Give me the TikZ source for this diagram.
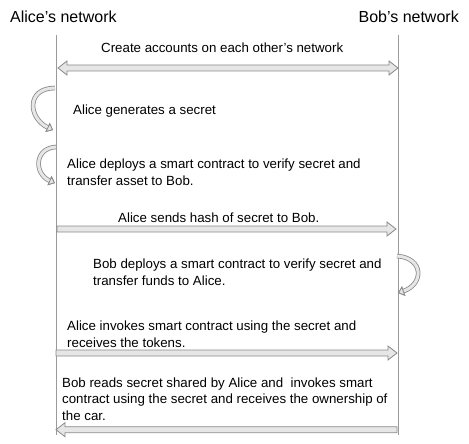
\documentclass[tikz,border=0pt]{standalone}
\usepackage{fontspec}
\setmainfont{Liberation Sans}
\usetikzlibrary{calc,arrows.meta}
\definecolor{linegray}{HTML}{8A8A8A}
\definecolor{fillgray}{HTML}{E6E6E6}
\definecolor{lifegray}{HTML}{9A9A9A}

\newcommand\onearrow[2]{%
\coordinate (hb) at ($(#2)!9pt!(#1)$);
\filldraw[blk]($(#1)!3pt!90:(#2)$)--($(hb)!3pt!90:(#2)$)--($(hb)!7pt!90:(#2)$)--(#2)
 --($(hb)!7pt!-90:(#2)$)--($(hb)!3pt!-90:(#2)$)--($(#1)!3pt!-90:(#2)$)--cycle;}
\newcommand\twoarrow[2]{%
\coordinate (ha) at ($(#1)!9pt!(#2)$);
\coordinate (hb) at ($(#2)!9pt!(#1)$);
\filldraw[blk](#1)--($(ha)!7pt!90:(#2)$)--($(ha)!3pt!90:(#2)$)--($(hb)!3pt!90:(#2)$)--($(hb)!7pt!90:(#2)$)--(#2)
 --($(hb)!7pt!-90:(#2)$)--($(hb)!3pt!-90:(#2)$)--($(ha)!3pt!-90:(#2)$)--($(ha)!7pt!-90:(#2)$)--cycle;}

\begin{document}
\begin{tikzpicture}[x=1pt,y=-1pt,
 life/.style={draw=lifegray,line width=0.8pt},
 blk/.style={draw=linegray,fill=fillgray,line width=0.8pt,line join=miter},
 selfarrow/.style={draw=fillgray,line width=3pt,preaction={draw=linegray,line width=4.6pt},
  -{Triangle[length=6pt,width=10pt,fill=fillgray,color=linegray,line width=0.8pt]}},
 title/.style={inner sep=0pt,font=\fontsize{16}{19}\selectfont},
 msg/.style={inner sep=0pt,anchor=base west,align=left,font=\fontsize{13.3}{16.3}\selectfont}]
\useasboundingbox (0,0) rectangle (469,444);

\node[title,anchor=base west](alice) at (10,22.7) {Alice’s network};
\node[title,anchor=base east](bob) at (459,22.7) {Bob’s network};

\coordinate (aT) at (56,35);
\coordinate (aB) at (56,435);
\coordinate (bT) at (398,35);
\coordinate (bB) at (398,435);
\draw[life](aT)--(aB);
\draw[life](bT)--(bB);

\node[msg](m1) at (101,52.7) {Create accounts on each other’s network};
\coordinate (m1a) at (58,68);
\coordinate (m1b) at (398,68);
\twoarrow{m1a}{m1b}

\node[msg](m2) at (73,114) {Alice generates a secret};
\coordinate (s1) at (55,88);
\coordinate (s1e) at (53,130);
\draw[selfarrow](s1) .. controls (26,88) and (28,118) .. (s1e);

\node[msg](m3) at (67,185) {Alice deploys a smart contract to verify secret and\\transfer asset to Bob.};
\coordinate (s2) at (56,147);
\coordinate (s2e) at (55,183);
\draw[selfarrow](s2) .. controls (34,148) and (34,174) .. (s2e);

\node[msg](m4) at (118,222.7) {Alice sends hash of secret to Bob.};
\coordinate (m4a) at (57,229);
\coordinate (m4b) at (396,229);
\onearrow{m4a}{m4b}

\node[msg](m5) at (93,285) {Bob deploys a smart contract to verify secret and\\transfer funds to Alice.};
\coordinate (s3) at (397,256);
\coordinate (s3e) at (398,293);
\draw[selfarrow](s3) .. controls (424,258) and (424,284) .. (s3e);

\node[msg](m6) at (67,347) {Alice invokes smart contract using the secret and\\receives the tokens.};
\coordinate (m6a) at (56,353);
\coordinate (m6b) at (397,353);
\onearrow{m6a}{m6b}

\node[msg](m7) at (62,420) {Bob reads secret shared by Alice and\ \ invokes smart\\contract using the secret and receives the ownership of\\the car.};
\coordinate (m7a) at (397,429.7);
\coordinate (m7b) at (56,429.7);
\onearrow{m7a}{m7b}
\end{tikzpicture}
\end{document}
